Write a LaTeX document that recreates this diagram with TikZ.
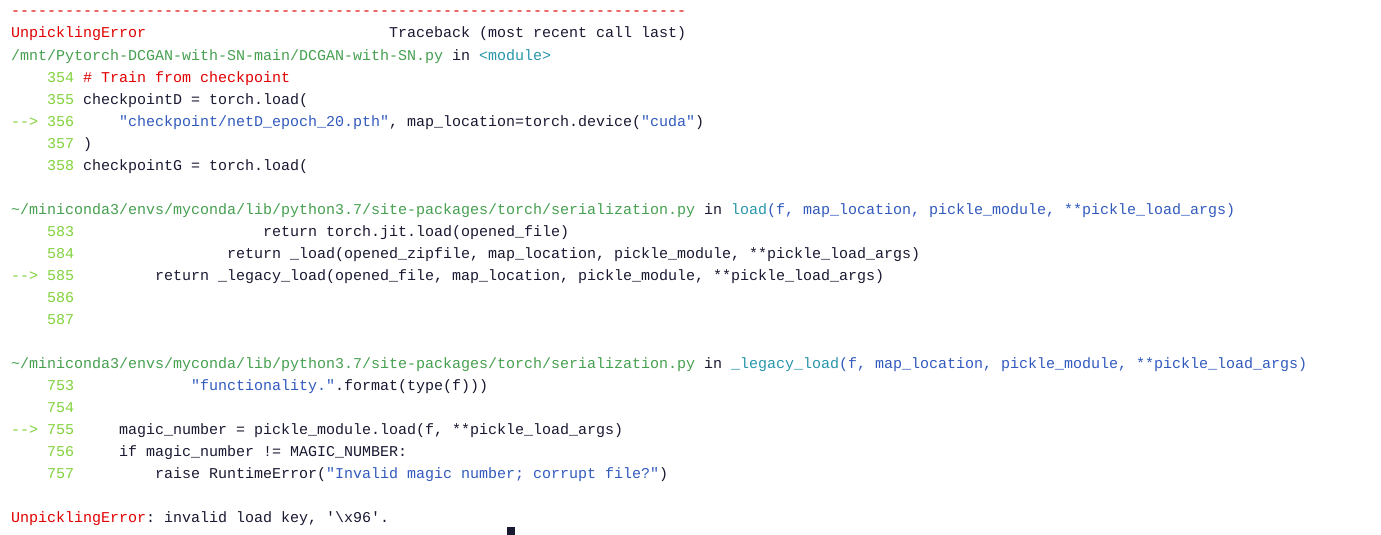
\documentclass[tikz,border=0pt]{standalone}
\usepackage{fontspec}
\setmonofont{Liberation Mono}
\definecolor{err}{RGB}{226,0,0}
\definecolor{num}{RGB}{130,210,60}
\definecolor{pth}{RGB}{70,160,80}
\definecolor{fn}{RGB}{40,150,170}
\definecolor{str}{RGB}{50,90,190}
\definecolor{txt}{RGB}{25,25,50}
\newcounter{segc}
\newcommand{\sg}[4]{\stepcounter{segc}\node[seg,text=#3] (s\arabic{segc}) at ({11+9*#1},{-(#2+5)}) {#4};}
\begin{document}
\begin{tikzpicture}[x=1pt,y=1pt,seg/.style={anchor=base west,inner sep=0pt,font=\ttfamily\fontsize{15}{15}\selectfont}]
\useasboundingbox[fill=white] (0,0) rectangle (1381,-535);
\sg{0}{11}{err}{---------------------------------------------------------------------------}
\sg{0}{33}{err}{UnpicklingError}
\sg{42}{33}{txt}{Traceback (most recent call last)}
\sg{0}{55}{pth}{/mnt/Pytorch-DCGAN-with-SN-main/DCGAN-with-SN.py}
\sg{49}{55}{txt}{in}
\sg{52}{55}{fn}{<module>}
\sg{4}{77}{num}{354}
\sg{8}{77}{err}{\# Train from checkpoint}
\sg{4}{99}{num}{355}
\sg{8}{99}{txt}{checkpointD = torch.load(}
\sg{0}{121}{num}{-->}
\sg{4}{121}{num}{356}
\sg{12}{121}{str}{"checkpoint/netD\_epoch\_20.pth"}
\sg{42}{121}{txt}{, map\_location=torch.device(}
\sg{70}{121}{str}{"cuda"}
\sg{76}{121}{txt}{)}
\sg{4}{143}{num}{357}
\sg{8}{143}{txt}{)}
\sg{4}{165}{num}{358}
\sg{8}{165}{txt}{checkpointG = torch.load(}
\sg{0}{209}{pth}{\textasciitilde/miniconda3/envs/myconda/lib/python3.7/site-packages/torch/serialization.py}
\sg{77}{209}{txt}{in}
\sg{80}{209}{fn}{load}
\sg{84}{209}{str}{(f, map\_location, pickle\_module, **pickle\_load\_args)}
\sg{4}{231}{num}{583}
\sg{28}{231}{txt}{return torch.jit.load(opened\_file)}
\sg{4}{253}{num}{584}
\sg{24}{253}{txt}{return \_load(opened\_zipfile, map\_location, pickle\_module, **pickle\_load\_args)}
\sg{0}{275}{num}{-->}
\sg{4}{275}{num}{585}
\sg{16}{275}{txt}{return \_legacy\_load(opened\_file, map\_location, pickle\_module, **pickle\_load\_args)}
\sg{4}{297}{num}{586}
\sg{4}{319}{num}{587}
\sg{0}{363}{pth}{\textasciitilde/miniconda3/envs/myconda/lib/python3.7/site-packages/torch/serialization.py}
\sg{77}{363}{txt}{in}
\sg{80}{363}{fn}{\_legacy\_load}
\sg{92}{363}{str}{(f, map\_location, pickle\_module, **pickle\_load\_args)}
\sg{4}{385}{num}{753}
\sg{20}{385}{str}{"functionality."}
\sg{36}{385}{txt}{.format(type(f)))}
\sg{4}{407}{num}{754}
\sg{0}{429}{num}{-->}
\sg{4}{429}{num}{755}
\sg{12}{429}{txt}{magic\_number = pickle\_module.load(f, **pickle\_load\_args)}
\sg{4}{451}{num}{756}
\sg{12}{451}{txt}{if magic\_number != MAGIC\_NUMBER:}
\sg{4}{473}{num}{757}
\sg{16}{473}{txt}{raise RuntimeError(}
\sg{35}{473}{str}{"Invalid magic number; corrupt file?"}
\sg{72}{473}{txt}{)}
\sg{0}{517}{err}{UnpicklingError}
\sg{15}{517}{txt}{: invalid load key, '\textbackslash x96'.}
\node[fill=txt,minimum width=8pt,minimum height=9pt,inner sep=0pt,anchor=north west] (cursor) at (507,-527) {};
\end{tikzpicture}
\end{document}
